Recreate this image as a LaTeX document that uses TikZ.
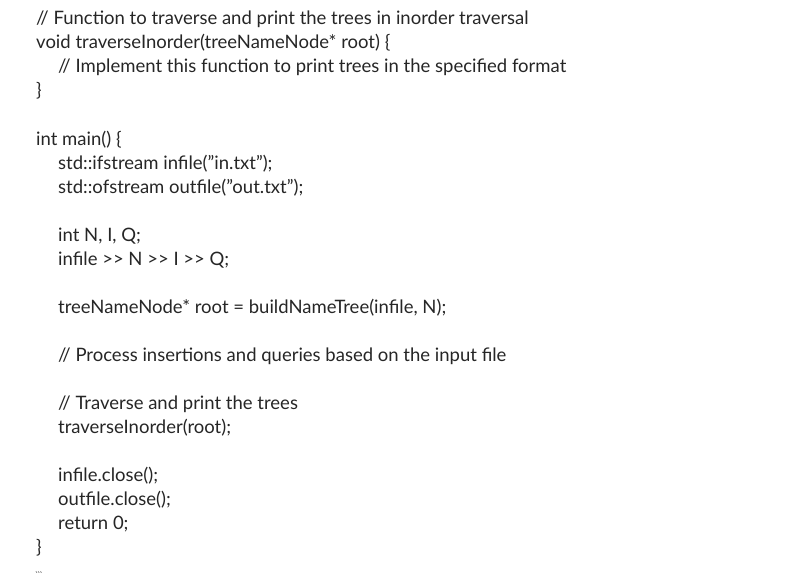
\documentclass[tikz,border=0pt]{standalone}
\usepackage{fontspec}
\setmainfont{Lato}
\begin{document}
\begin{tikzpicture}[x=1pt,y=-1pt,every node/.style={inner sep=0pt,anchor=base west,font=\fontsize{18.5}{22}\selectfont,text=black!85}]
\useasboundingbox[fill=white] (0,0) rectangle (791,583);
\node (l1) at (36,25) {// Function to traverse and print the trees in inorder traversal};
\node (l2) at (36,49) {void traverseInorder(treeNameNode* root) \{};
\node (l3) at (58,73) {// Implement this function to print trees in the specified format};
\node (l4) at (36,97) {\}};
\node (l5) at (36,145) {int main() \{};
\node (l6) at (58,169) {std::ifstream infile("in.txt");};
\node (l7) at (58,193) {std::ofstream outfile("out.txt");};
\node (l8) at (58,241) {int N, I, Q;};
\node (l9) at (58,265) {infile >{}> N >{}> I >{}> Q;};
\node (l10) at (58,313) {treeNameNode* root = buildNameTree(infile, N);};
\node (l11) at (58,361) {// Process insertions and queries based on the input file};
\node (l12) at (58,409) {// Traverse and print the trees};
\node (l13) at (58,433) {traverseInorder(root);};
\node (l14) at (58,481) {infile.close();};
\node (l15) at (58,505) {outfile.close();};
\node (l16) at (58,529) {return 0;};
\node (l17) at (36,553) {\}};
\node (l18) at (36,578) {\fontsize{9}{10}\selectfont\`{}\`{}\`{}};
\end{tikzpicture}
\end{document}
